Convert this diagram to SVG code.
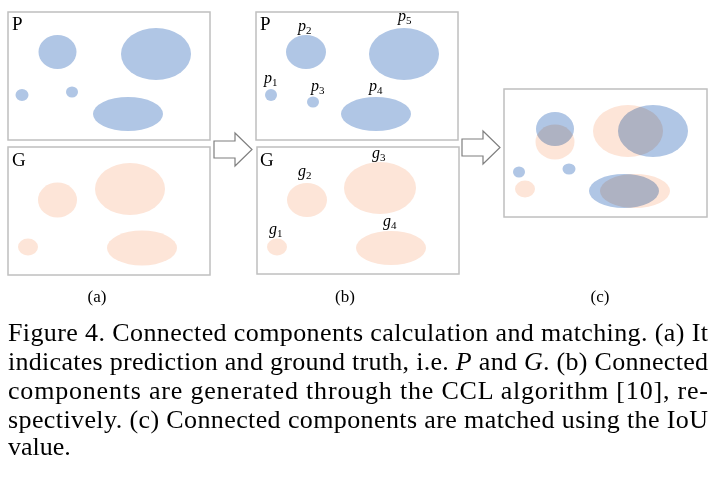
<svg xmlns="http://www.w3.org/2000/svg" width="718" height="486" viewBox="0 0 718 486">
<style>
.fr{fill:#fff;stroke:#bfbfbf;stroke-width:1.5}
.b{fill:#b0c6e5}.o{fill:#fde5d8}.bt{fill:#b0c6e5;mix-blend-mode:multiply}
.L{font-family:"Liberation Serif",serif;font-size:19px;fill:#000}
.m{font-family:"Liberation Serif",serif;font-style:italic;font-size:16px;fill:#000}
.s{font-size:11px;font-style:normal}
.c{font-family:"Liberation Serif",serif;font-size:17px;fill:#000;text-anchor:middle}
.t{font-family:"Liberation Serif",serif;font-size:26px;fill:#000}
.ar{fill:#fff;stroke:#7f7f7f;stroke-width:1.2}
</style>
<g id="panelA_P"><rect class="fr" x="8" y="12" width="202" height="128"/><text class="L" x="12" y="30">P</text>
<ellipse class="b" cx="57.5" cy="52" rx="19" ry="17"/><ellipse class="b" cx="156" cy="54" rx="35" ry="26"/><ellipse class="b" cx="22" cy="95" rx="6.5" ry="6"/><ellipse class="b" cx="72" cy="92" rx="6" ry="5.5"/><ellipse class="b" cx="128" cy="114" rx="35" ry="17"/></g>
<g id="panelA_G"><rect class="fr" x="8" y="147" width="202" height="128"/><text class="L" x="12" y="166">G</text>
<ellipse class="o" cx="57.5" cy="200" rx="19.5" ry="17.5"/><ellipse class="o" cx="130" cy="189" rx="35" ry="26"/><ellipse class="o" cx="28" cy="247" rx="10" ry="8.5"/><ellipse class="o" cx="142" cy="248" rx="35" ry="17.5"/></g>
<g id="panelB_P"><rect class="fr" x="256" y="12" width="202" height="128"/><text class="L" x="260" y="30">P</text>
<ellipse class="b" cx="306" cy="52" rx="20" ry="17"/><ellipse class="b" cx="404" cy="54" rx="35" ry="26"/><ellipse class="b" cx="271" cy="95" rx="6" ry="6"/><ellipse class="b" cx="313" cy="102" rx="6" ry="5.5"/><ellipse class="b" cx="376" cy="114" rx="35" ry="17"/>
<text class="m" x="298" y="31">p<tspan class="s" dy="3">2</tspan></text><text class="m" x="398" y="21">p<tspan class="s" dy="3">5</tspan></text><text class="m" x="264" y="83">p<tspan class="s" dy="3">1</tspan></text><text class="m" x="311" y="91">p<tspan class="s" dy="3">3</tspan></text><text class="m" x="369" y="91">p<tspan class="s" dy="3">4</tspan></text></g>
<g id="panelB_G"><rect class="fr" x="257" y="147" width="202" height="127"/><text class="L" x="260" y="166">G</text>
<ellipse class="o" cx="307" cy="200" rx="20" ry="17"/><ellipse class="o" cx="380" cy="188" rx="36" ry="26"/><ellipse class="o" cx="277" cy="247" rx="10" ry="8.5"/><ellipse class="o" cx="391" cy="248" rx="35" ry="17"/>
<text class="m" x="298" y="176">g<tspan class="s" dy="3">2</tspan></text><text class="m" x="372" y="158">g<tspan class="s" dy="3">3</tspan></text><text class="m" x="269" y="234">g<tspan class="s" dy="3">1</tspan></text><text class="m" x="383" y="226">g<tspan class="s" dy="3">4</tspan></text></g>
<g id="panelC"><rect class="fr" x="504" y="89" width="203" height="128"/>
<ellipse class="o" cx="555" cy="142" rx="19.5" ry="17.5"/><ellipse class="o" cx="628" cy="131" rx="35" ry="26"/><ellipse class="o" cx="525" cy="189" rx="10" ry="8.5"/><ellipse class="o" cx="635" cy="191" rx="35" ry="17"/>
<ellipse class="bt" cx="555" cy="129" rx="19" ry="17"/><ellipse class="bt" cx="653" cy="131" rx="35" ry="26"/><ellipse class="bt" cx="519" cy="172" rx="6" ry="5.5"/><ellipse class="bt" cx="569" cy="169" rx="6.5" ry="5.5"/><ellipse class="bt" cx="624" cy="191" rx="35" ry="17"/></g>
<g id="connectors"><path class="ar" d="M214,141H235V133L252,149.5L235,166V158H214Z"/><path class="ar" d="M462,139H483V131L500,147.5L483,164V156H462Z"/></g>
<g id="captions"><text class="c" x="97" y="302">(a)</text><text class="c" x="345" y="302">(b)</text><text class="c" x="600" y="302">(c)</text>
<text class="t" x="8" y="341" textLength="700" lengthAdjust="spacing">Figure 4. Connected components calculation and matching. (a) It</text>
<text class="t" x="8" y="370" textLength="700" lengthAdjust="spacing">indicates prediction and ground truth, i.e. <tspan font-style="italic">P</tspan> and <tspan font-style="italic">G</tspan>. (b) Connected</text>
<text class="t" x="8" y="399" textLength="700" lengthAdjust="spacing">components are generated through the CCL algorithm [10], re-</text>
<text class="t" x="8" y="428" textLength="700" lengthAdjust="spacing">spectively. (c) Connected components are matched using the IoU</text>
<text class="t" x="8" y="455">value.</text></g>
</svg>
